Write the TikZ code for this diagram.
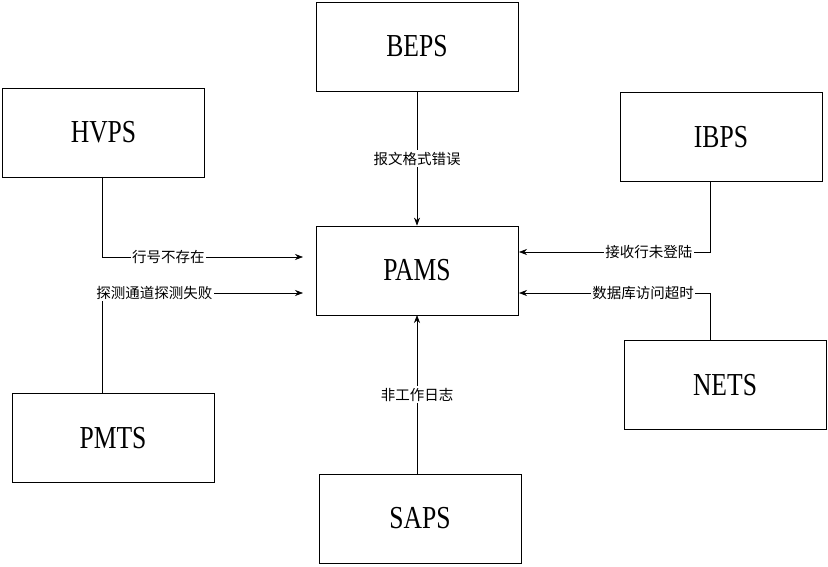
\documentclass[tikz,border=0pt]{standalone}
\usepackage{fontspec}
\setmainfont{Liberation Serif}
\newfontfamily\cjk{Noto Sans CJK SC}
\usetikzlibrary{arrows.meta}
\begin{document}
\begin{tikzpicture}[x=1pt,y=-1pt,
  box/.style={draw,line width=0.8pt,minimum width=202pt,minimum height=89pt,inner sep=0pt,font=\fontsize{32}{32}\selectfont\addfontfeature{FakeStretch=0.8}},
  lab/.style={fill=white,inner sep=1.5pt,font=\cjk\fontsize{14.5}{14.5}\selectfont},
  arr/.style={line width=0.6pt,-{Stealth[length=8pt,width=6pt]}}]
\useasboundingbox (0,0) rectangle (828,567);
\node[box] (beps) at (417,46.5) {BEPS};
\node[box] (hvps) at (103.5,132.5) {HVPS};
\node[box] (ibps) at (721,137) {IBPS};
\node[box] (pams) at (417,270.5) {PAMS};
\node[box] (nets) at (725,385) {NETS};
\node[box] (pmts) at (113,438) {PMTS};
\node[box] (saps) at (420,518.5) {SAPS};
\coordinate (hl) at (303,257);
\coordinate (pl) at (303,293);
\coordinate (ir) at (519,252);
\coordinate (nr) at (519,293);
\draw[arr] (beps.south) -- node[lab,pos=0.5]{报文格式错误} (pams.north);
\draw[arr] (417,474) -- node[lab,pos=0.5]{非工作日志} (417,315);
\draw[arr] (102,177) |- node[lab,pos=0.665]{行号不存在} (hl);
\draw[arr] (102,393) |- node[lab,pos=0.63]{探测通道探测失败} (pl);
\draw[arr] (710,182) |- node[lab,pos=0.66]{接收行未登陆} (ir);
\draw[arr] (710,340) |- node[lab,pos=0.675]{数据库访问超时} (nr);
\end{tikzpicture}
\end{document}
